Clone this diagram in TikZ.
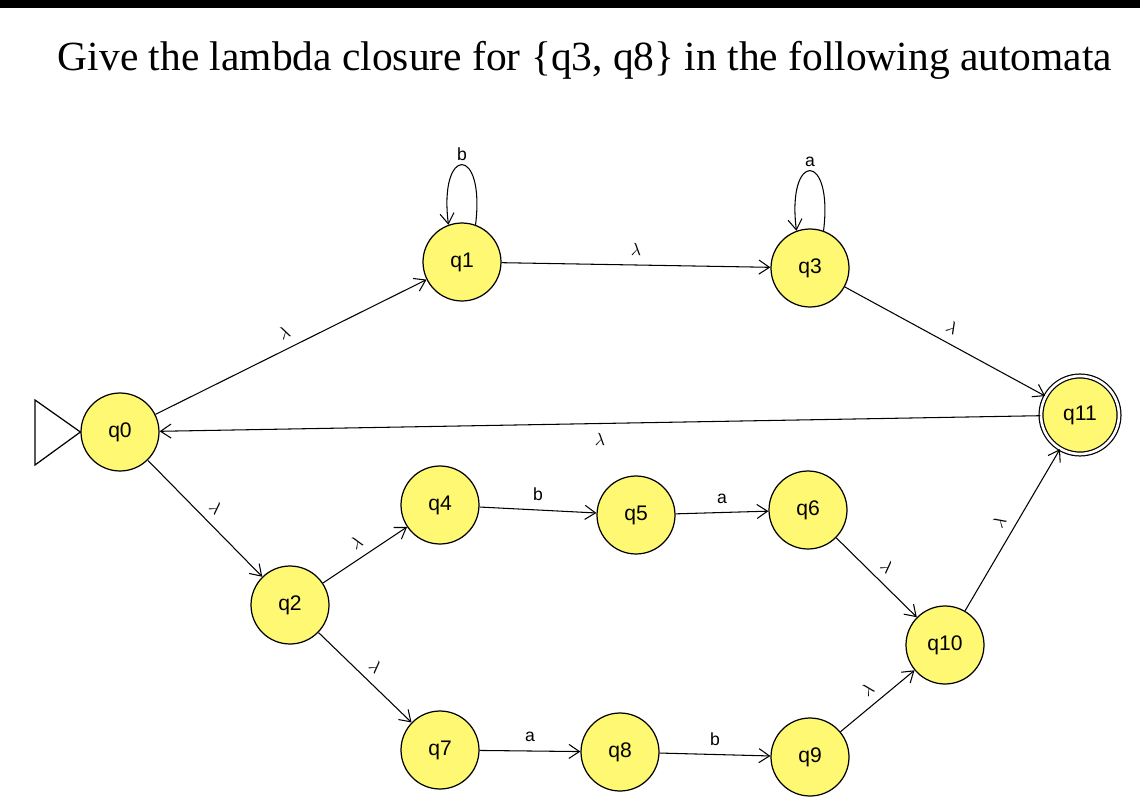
\documentclass[tikz,border=0pt]{standalone}
\usepackage{fontspec}
\setmainfont{Liberation Serif}
\setsansfont{Liberation Sans}
\usetikzlibrary{arrows.meta}
\begin{document}
\begin{tikzpicture}[x=0.02cm,y=-0.02cm,
  st/.style={circle,draw=black,fill=yellow!55,line width=0.7pt,minimum size=1.56cm,inner sep=0pt,font=\sffamily\fontsize{12}{14}\selectfont},
  ed/.style={-{Straight Barb[length=6pt,width=8pt]},line width=0.6pt},
  lb/.style={font=\sffamily\fontsize{10}{12}\selectfont,inner sep=2pt}]
\useasboundingbox (0,0) rectangle (1140,808);
\fill[black] (0,0) rectangle (1140,8);
\node[font=\fontsize{23.6}{28}\selectfont] (title) at (585,60) {Give the lambda closure for \{q3, q8\} in the following automata};
\node[st] (q0) at (120,432) {q0};
\node[st] (q1) at (462,262) {q1};
\node[st] (q3) at (810,268) {q3};
\node[st,double,double distance=1.5pt] (q11) at (1080,415) {q11};
\node[st] (q4) at (440,505) {q4};
\node[st] (q5) at (636,515) {q5};
\node[st] (q6) at (808,510) {q6};
\node[st] (q2) at (290,605) {q2};
\node[st] (q10) at (945,645) {q10};
\node[st] (q7) at (440,750) {q7};
\node[st] (q8) at (620,752) {q8};
\node[st] (q9) at (810,757) {q9};
\draw[line width=0.7pt] (q0.west) -- (35,400) -- (35,465) -- cycle;
\draw[ed] (q0) -- node[lb,sloped,above=3pt]{$\lambda$} (q1);
\draw[ed] (q1) -- node[lb,above=3pt]{$\lambda$} (q3);
\draw[ed] (q3) -- node[lb,sloped,above=3pt]{$\lambda$} (q11);
\draw[ed] (q11) -- node[lb,below=3pt]{$\lambda$} (q0);
\draw[ed] (q0) -- node[lb,sloped,above=3pt]{$\lambda$} (q2);
\draw[ed] (q2) -- node[lb,sloped,above=3pt]{$\lambda$} (q4);
\draw[ed] (q4) -- node[lb,above=3pt]{b} (q5);
\draw[ed] (q5) -- node[lb,above=3pt]{a} (q6);
\draw[ed] (q6) -- node[lb,sloped,above=3pt]{$\lambda$} (q10);
\draw[ed] (q2) -- node[lb,sloped,above=3pt]{$\lambda$} (q7);
\draw[ed] (q7) -- node[lb,above=3pt]{a} (q8);
\draw[ed] (q8) -- node[lb,above=3pt]{b} (q9);
\draw[ed] (q9) -- node[lb,sloped,above=3pt]{$\lambda$} (q10);
\draw[ed] (q10) -- node[lb,sloped,above=3pt]{$\lambda$} (q11);
\draw[ed] (q1.70) .. controls +(10,-80) and +(-10,-80) .. node[lb,above]{b} (q1.110);
\draw[ed] (q3.70) .. controls +(10,-80) and +(-10,-80) .. node[lb,above]{a} (q3.110);
\end{tikzpicture}
\end{document}
